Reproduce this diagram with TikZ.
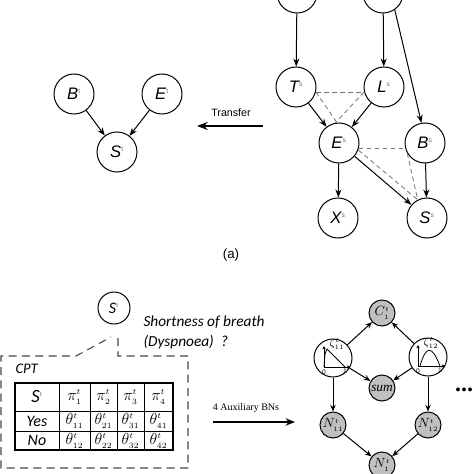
\documentclass[tikz,border=0pt]{standalone}
\usepackage{fontspec}
\setmainfont{Liberation Serif}
\setsansfont{Liberation Sans}
\newfontfamily\cptfont{Carlito}
\usetikzlibrary{arrows.meta}

\definecolor{auxgray}{RGB}{192,192,192}
\definecolor{moralgray}{RGB}{115,115,115}
\definecolor{supgray}{RGB}{110,110,110}
\definecolor{boxgray}{RGB}{70,70,70}

\newcommand{\bnsup}[1]{\textsuperscript{\fontsize{5}{5}\selectfont\upshape\color{supgray}#1}}

\tikzset{every picture/.style={line width=0.75pt}}
\tikzset{
  bnvar/.style={circle, draw, minimum size=30pt, inner sep=0pt, font=\sffamily\itshape\fontsize{12.5}{12.5}\selectfont},
  auxvar/.style={circle, draw, fill=auxgray, minimum size=19.5pt, inner sep=0pt, font=\fontsize{10}{10}\selectfont},
  zetavar/.style={circle, draw, minimum size=28.5pt, inner sep=0pt},
  bnarc/.style={-{Stealth[length=6pt,width=4.5pt]}},
  auxarc/.style={-{Stealth[length=5pt,width=4pt]}},
  axisarc/.style={-{Stealth[length=2.5pt,width=2.5pt]}, line width=0.6pt},
  moral/.style={draw=moralgray, dash pattern=on 3.5pt off 2.5pt, line width=0.6pt},
  cell/.style={inner sep=0pt, font=\fontsize{12.5}{12.5}\selectfont},
  ticklab/.style={inner sep=0pt, font=\sffamily\fontsize{5}{5}\selectfont},
}

\begin{document}
\begin{tikzpicture}[x=0.75pt,y=0.75pt,yscale=-1,xscale=1]
\useasboundingbox (0,0) rectangle (474,474);

% Source network
\node [bnvar] (topl) at (297,-7) {};
\node [bnvar] (topr) at (383,-7) {};
\node [bnvar] (Ts) at (296,87) {T\bnsup{s}};
\node [bnvar] (Ls) at (384,87) {L\bnsup{s}};
\node [bnvar] (Es) at (339,143) {E\bnsup{s}};
\node [bnvar] (Bs) at (425,143) {B\bnsup{s}};
\node [bnvar] (Xs) at (338,218) {X\bnsup{s}};
\node [bnvar] (Ss) at (427,218) {S\bnsup{s}};

\draw [bnarc] (topl) -- (Ts);
\draw [bnarc] (topr) -- (Ls);
\draw [bnarc] (topr.-55) -- (Bs.100);
\draw [bnarc] (Ts) -- (Es);
\draw [bnarc] (Ls) -- (Es);
\draw [bnarc] (Es) -- (Xs);
\draw [bnarc] (Es) -- (Ss);
\draw [bnarc] (Bs) -- (Ss);

% Moral edges
\draw [moral] (Ts.-14) -- (Ls.194);
\draw [moral] (Ts.-14) -- (Es.96);
\draw [moral] (Ls.194) -- (Es.100);
\draw [moral] (Es.-15) -- (Bs.195);
\draw [moral] (Es.-20) -- (Ss.117);
\draw [moral] (Bs.210) -- (Ss.117);

% Target network
\node [bnvar] (Bt) at (74,94) {B\bnsup{t}};
\node [bnvar] (Et) at (162,94) {E\bnsup{t}};
\node [bnvar] (St) at (117,152) {S\bnsup{t}};
\draw [bnarc] (Bt) -- (St);
\draw [bnarc] (Et) -- (St);

% Transfer
\coordinate (trR) at (263,126);
\coordinate (trL) at (197,126);
\draw [line width=1.4pt, -{Stealth[length=8pt,width=6pt]}] (trR) -- (trL);
\node [font=\sffamily\fontsize{8}{8}\selectfont] (transfer) at (231,113) {Transfer};
\node [font=\sffamily\fontsize{10}{10}\selectfont] (capa) at (231,255) {(a)};

% Callout
\node [circle, draw, minimum size=24pt, inner sep=0pt, font=\cptfont\itshape\fontsize{12}{12}\selectfont] (Sb) at (114,308) {S\bnsup{t}};
\node [anchor=west, inner sep=0pt, font=\cptfont\itshape\fontsize{11.5}{11.5}\selectfont] (shortness) at (143,322) {Shortness of breath};
\node [anchor=west, inner sep=0pt, font=\cptfont\itshape\fontsize{11.5}{11.5}\selectfont] (dyspnoea) at (143,342) {(Dyspnoea) \ ?};
\draw [draw=boxgray, dash pattern=on 6pt off 4pt, line width=0.8pt] (118,338) -- (118,356) -- (188,356) -- (188,468) -- (1,468) -- (1,356) -- (76,356) -- (111,337);
\node [anchor=west, inner sep=0pt, font=\cptfont\itshape\fontsize{11}{11}\selectfont] (cpt) at (15,369) {CPT};

% CPT table
\draw [line width=1.3pt] (15,383) rectangle (173,450);
\draw [line width=0.6pt] (59,383) -- (59,450);
\draw [line width=0.6pt] (90,383) -- (90,450);
\draw [line width=0.6pt] (117,383) -- (117,450);
\draw [line width=0.6pt] (144,383) -- (144,450);
\draw [line width=0.6pt] (15,411) -- (173,411);
\draw [line width=0.6pt] (15,431) -- (173,431);

\node [cell, font=\cptfont\itshape\fontsize{14}{14}\selectfont] (hd0) at (37,397) {S\bnsup{t}};
\node [cell] (hd1) at (74.5,397) {$\pi^{\scriptscriptstyle t}_{\scriptscriptstyle 1}$};
\node [cell] (hd2) at (103.5,397) {$\pi^{\scriptscriptstyle t}_{\scriptscriptstyle 2}$};
\node [cell] (hd3) at (130.5,397) {$\pi^{\scriptscriptstyle t}_{\scriptscriptstyle 3}$};
\node [cell] (hd4) at (158.5,397) {$\pi^{\scriptscriptstyle t}_{\scriptscriptstyle 4}$};
\node [cell, font=\cptfont\itshape\fontsize{12}{12}\selectfont] (yes0) at (37,421) {Yes};
\node [cell] (yes1) at (74.5,421) {$\theta^{\scriptscriptstyle t}_{\scriptscriptstyle 11}$};
\node [cell] (yes2) at (103.5,421) {$\theta^{\scriptscriptstyle t}_{\scriptscriptstyle 21}$};
\node [cell] (yes3) at (130.5,421) {$\theta^{\scriptscriptstyle t}_{\scriptscriptstyle 31}$};
\node [cell] (yes4) at (158.5,421) {$\theta^{\scriptscriptstyle t}_{\scriptscriptstyle 41}$};
\node [cell, font=\cptfont\itshape\fontsize{12}{12}\selectfont] (no0) at (37,440.5) {No};
\node [cell] (no1) at (74.5,440.5) {$\theta^{\scriptscriptstyle t}_{\scriptscriptstyle 12}$};
\node [cell] (no2) at (103.5,440.5) {$\theta^{\scriptscriptstyle t}_{\scriptscriptstyle 22}$};
\node [cell] (no3) at (130.5,440.5) {$\theta^{\scriptscriptstyle t}_{\scriptscriptstyle 32}$};
\node [cell] (no4) at (158.5,440.5) {$\theta^{\scriptscriptstyle t}_{\scriptscriptstyle 42}$};

% Auxiliary BNs
\node [font=\fontsize{7.5}{7.5}\selectfont] (auxtext) at (246,408) {4 Auxiliary BNs};
\coordinate (auxL) at (213,422);
\coordinate (auxR) at (295,422);
\draw [line width=1.4pt, -{Stealth[length=7pt,width=5.5pt]}] (auxL) -- (auxR);

\node [auxvar] (C1) at (382,313) {$C^{\scriptscriptstyle t}_{\scriptscriptstyle 1}$};
\node [zetavar] (zl) at (333,358) {};
\node [zetavar] (zr) at (428,357) {};
\node [auxvar] (sumn) at (382,388) {\itshape sum};
\node [auxvar] (N11) at (333,425) {$N^{\scriptscriptstyle t}_{\scriptscriptstyle 11}$};
\node [auxvar] (N12) at (428,425) {$N^{\scriptscriptstyle t}_{\scriptscriptstyle 12}$};
\node [auxvar] (N1) at (382,465) {$N^{\scriptscriptstyle t}_{\scriptscriptstyle 1}$};
\node [inner sep=0pt, font=\bfseries\fontsize{18}{18}\selectfont] (dots) at (464,390) {...};

\draw [auxarc] (zl) -- (C1);
\draw [auxarc] (zr) -- (C1);
\draw [auxarc] (zl) -- (sumn);
\draw [auxarc] (zr) -- (sumn);
\draw [auxarc] (zl) -- (N11);
\draw [auxarc] (zr) -- (N12);
\draw [auxarc] (N11) -- (N1);
\draw [auxarc] (N12) -- (N1);

% Density sketches
\draw [axisarc] (324,367) -- (324,346);
\draw [axisarc] (324,367) -- (350,367);
\draw [line width=0.6pt] (324,367) .. controls (325,352) .. (327,349) -- (345,367);
\node [ticklab] (zl0) at (324,372) {0};
\node [ticklab] (zl1) at (345,371) {1};
\node [inner sep=0pt, font=\fontsize{8}{8}\selectfont] (zllab) at (337,344) {$\zeta^{\scriptscriptstyle t}_{\scriptscriptstyle 11}$};

\draw [axisarc] (418,366) -- (418,345);
\draw [axisarc] (418,366) -- (445,366);
\draw [line width=0.6pt] (420,366) .. controls (426,345) and (432,345) .. (440,366);
\node [ticklab] (zr0) at (418,371) {0};
\node [ticklab] (zr1) at (440,370) {1};
\node [inner sep=0pt, font=\fontsize{8}{8}\selectfont] (zrlab) at (431,343) {$\zeta^{\scriptscriptstyle t}_{\scriptscriptstyle 12}$};

\end{tikzpicture}
\end{document}
